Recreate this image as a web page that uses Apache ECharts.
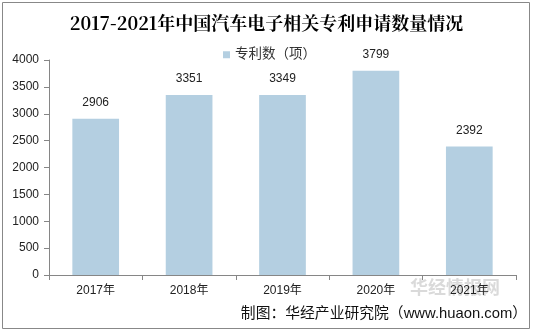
<!DOCTYPE html>
<html>
<head>
<meta charset="utf-8">
<script src="https://cdn.jsdelivr.net/npm/echarts@6/dist/echarts.min.js"></script>
<style>
html,body{margin:0;padding:0;background:#fff;}
#chart{width:533px;height:333px;}
</style>
</head>
<body>
<div id="chart"></div>
<script>
// Patent applications related to automotive electronics in China, 2017-2021
const years = ['2017年', '2018年', '2019年', '2020年', '2021年'];
const patents = [2906, 3351, 3349, 3799, 2392];
const seriesName = '专利数（项）';
const titleText = '2017-2021年中国汽车电子相关专利申请数量情况';
const sourceText = '制图：华经产业研究院（www.huaon.com）';

const chart = echarts.init(document.getElementById('chart'), null, {renderer: 'canvas'});
const sans = '"Liberation Sans", Arial, "Noto Sans CJK SC", sans-serif';

chart.setOption({
  animation: false,
  backgroundColor: '#fff',
  title: {
    text: titleText,
    left: 'center',
    top: 9,
    textStyle: {
      fontFamily: '"Noto Serif CJK SC", "DejaVu Serif", "Noto Sans CJK SC", serif',
      fontSize: 18,
      fontWeight: 'bold',
      color: '#000'
    }
  },
  legend: {
    data: [seriesName],
    top: 43,
    left: 218,
    itemWidth: 7,
    itemHeight: 7,
    itemGap: 4,
    icon: 'rect',
    textStyle: {fontFamily: sans, fontSize: 13.5, color: '#333'}
  },
  grid: {left: 49, right: 17, top: 60, bottom: 58},
  xAxis: {
    type: 'category',
    data: years,
    axisLine: {lineStyle: {color: '#868686', width: 1}},
    axisTick: {show: true, length: 5, lineStyle: {color: '#868686'}},
    axisLabel: {fontFamily: sans, fontSize: 12, color: '#222', margin: 10}
  },
  yAxis: {
    type: 'value',
    min: 0,
    max: 4000,
    interval: 500,
    axisLine: {show: true, lineStyle: {color: '#868686', width: 1}},
    axisTick: {show: true, length: 5, lineStyle: {color: '#868686'}},
    splitLine: {show: false},
    axisLabel: {fontFamily: sans, fontSize: 12, color: '#222', margin: 10, formatter: v => String(v)}
  },
  series: [{
    name: seriesName,
    type: 'bar',
    data: patents,
    barWidth: '50%',
    itemStyle: {color: '#b4cfe1'},
    label: {
      show: true,
      position: 'top',
      distance: 10,
      fontFamily: sans,
      fontSize: 12,
      color: '#222'
    }
  }],
  graphic: [
    {
      type: 'rect',
      shape: {x: 2.5, y: 2.5, width: 527, height: 326},
      style: {fill: 'none', stroke: '#888', lineWidth: 1},
      silent: true
    },
    {
      type: 'text',
      right: 6,
      top: 307,
      style: {
        text: sourceText,
        fontFamily: sans,
        fontSize: 14.8,
        fill: '#111'
      }
    },
    {
      type: 'text',
      left: 410,
      top: 278,
      style: {
        text: '华经情报网',
        fontFamily: '"Noto Sans CJK SC", sans-serif',
        fontSize: 18,
        fontWeight: 'bold',
        fill: 'rgba(150,150,150,0.35)'
      }
    }
  ]
});
</script>
</body>
</html>
